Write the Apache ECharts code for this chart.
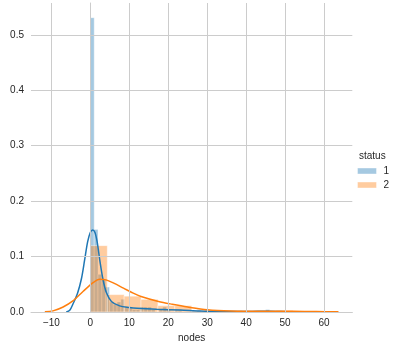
<!DOCTYPE html>
<html>
<head>
<meta charset="utf-8">
<script src="https://cdn.jsdelivr.net/npm/echarts@6/dist/echarts.min.js"></script>
<style>html,body{margin:0;padding:0;background:#fff;}#c{width:403px;height:351px;}</style>
</head>
<body>
<div id="c"></div>
<script>
// ---- data ----
const xTicks = [-10, 0, 10, 20, 30, 40, 50, 60];
const yTicks = [0, 0.1, 0.2, 0.3, 0.4, 0.5];
const legendNames = ['1', '2'];
// status 1 histogram: 47 bins spanning 0..46 (density)
const hist1Range = [0, 46];
const hist1 = [0.531, 0.149, 0.068, 0.059, 0.045, 0.018, 0.014, 0.018, 0.023, 0.009,
  0.009, 0.0045, 0.0045, 0.009, 0.009, 0.009, 0.0045, 0, 0.0045, 0.009,
  0.0045, 0, 0.0045, 0.0045, 0, 0, 0, 0, 0.0045, 0,
  0.0045, 0, 0, 0, 0, 0, 0, 0, 0, 0,
  0, 0, 0, 0, 0, 0, 0.0045];
// status 2 histogram: 12 bins spanning 0..52 (density)
const hist2Range = [0, 52];
const hist2 = [0.1197, 0.0313, 0.0285, 0.0228, 0.0114, 0.0114, 0.0028, 0, 0.0028, 0, 0, 0.0028];
// KDE curves [x, density]
const kde1 = [[-6.2,0],[-5.3,0.003],[-4.5,0.014],[-3.3,0.034],[-2.3,0.06],[-1.5,0.093],[-0.7,0.127],
  [0,0.144],[0.6,0.148],[1.2,0.143],[1.8,0.124],[2.4,0.094],[3.2,0.06],[4.1,0.035],[5.4,0.019],
  [7.5,0.011],[10,0.008],[12,0.0066],[17,0.0048],[23,0.0036],[28,0.0018],[32,0.0012],[38,0.0008],
  [43,0.0012],[46,0.0015],[49,0.001],[52,0.0002]];
const kde2 = [[-11.7,0.0005],[-9.6,0.002],[-7,0.009],[-4.5,0.02],[-1.9,0.037],[0.7,0.053],[2.4,0.059],
  [4,0.058],[6,0.052],[8.5,0.043],[11,0.034],[13,0.028],[17.5,0.019],[21,0.014],[25,0.009],
  [30,0.004],[36,0.0018],[45,0.0012],[52,0.0012],[58,0.0008],[63.7,0.0003]];

// ---- build ----
function bins(range, vals) {
  const w = (range[1] - range[0]) / vals.length;
  return vals.map((v, i) => [range[0] + i * w, range[0] + (i + 1) * w, v]);
}
const blueFill = 'rgba(31,119,180,0.4)';
const orangeFill = 'rgba(255,127,14,0.4)';
function histSeries(name, data, fill) {
  return {
    name: name, type: 'custom', data: data,
    itemStyle: { color: fill },
    encode: { x: [0, 1], y: 2 },
    renderItem: function (params, api) {
      const p0 = api.coord([api.value(0), api.value(2)]);
      const p1 = api.coord([api.value(1), 0]);
      return { type: 'rect',
        shape: { x: p0[0], y: p0[1], width: p1[0] - p0[0], height: p1[1] - p0[1] },
        style: { fill: fill, stroke: 'rgba(255,255,255,0.4)', lineWidth: 1 } };
    }
  };
}
function kdeSeries(data, color) {
  return { type: 'line', data: data, smooth: 0.3, symbol: 'none', showSymbol: false,
    lineStyle: { color: color, width: 1.5 }, itemStyle: { color: color }, silent: true };
}
const grid = ['#cccccc'];
const chart = echarts.init(document.getElementById('c'), null, { renderer: 'canvas' });
chart.setOption({
  animation: false,
  backgroundColor: '#ffffff',
  title: { text: 'status', left: 359, top: 151, padding: 0,
    textStyle: { fontSize: 10, fontWeight: 'normal', color: '#262626', fontFamily: 'Liberation Sans' } },
  legend: {
    orient: 'vertical', left: 357, top: 165, padding: 0, itemGap: 2,
    itemWidth: 19, itemHeight: 6, icon: 'rect',
    data: [
      { name: legendNames[0], itemStyle: { color: blueFill, borderColor: 'rgba(255,255,255,0.4)', borderWidth: 1 } },
      { name: legendNames[1], itemStyle: { color: orangeFill, borderColor: 'rgba(255,255,255,0.4)', borderWidth: 1 } }
    ],
    selectedMode: false,
    textStyle: { fontSize: 10, color: '#262626', fontFamily: 'Liberation Sans', lineHeight: 12, padding: [0, 0, 0, 2] }
  },
  grid: { left: 31, right: 50.7, top: 3, bottom: 39, containLabel: false },
  xAxis: {
    type: 'value', min: -15.25, max: 67.25,
    name: 'nodes', nameLocation: 'middle', nameGap: 18,
    nameTextStyle: { fontSize: 10, color: '#262626', fontFamily: 'Liberation Sans' },
    axisLine: { show: true, lineStyle: { color: '#cccccc', width: 1 } },
    axisTick: { show: false },
    splitLine: { show: false },
    axisLabel: { customValues: xTicks, fontSize: 10, color: '#262626', margin: 6, fontFamily: 'Liberation Sans',
      formatter: v => String(v).replace('-', '\u2212') }
  },
  yAxis: {
    type: 'value', min: 0, max: 0.5575,
    axisLine: { show: true, lineStyle: { color: '#cccccc', width: 1 } },
    axisTick: { show: false },
    splitLine: { show: false },
    axisLabel: { customValues: yTicks, fontSize: 10, color: '#262626', margin: 7, fontFamily: 'Liberation Sans',
      formatter: v => v.toFixed(1) }
  },
  series: [
    { type: 'line', data: [], z: 0, silent: true, symbol: 'none',
      markLine: { silent: true, symbol: ['none', 'none'], label: { show: false },
        lineStyle: { color: grid[0], width: 1, type: 'solid' },
        emphasis: { disabled: true },
        data: xTicks.map(v => ({ xAxis: v })).concat(yTicks.map(v => ({ yAxis: v }))) } },
    histSeries(legendNames[0], bins(hist1Range, hist1), blueFill),
    kdeSeries(kde1, '#1f77b4'),
    histSeries(legendNames[1], bins(hist2Range, hist2), orangeFill),
    kdeSeries(kde2, '#ff7f0e')
  ]
});
</script>
</body>
</html>
